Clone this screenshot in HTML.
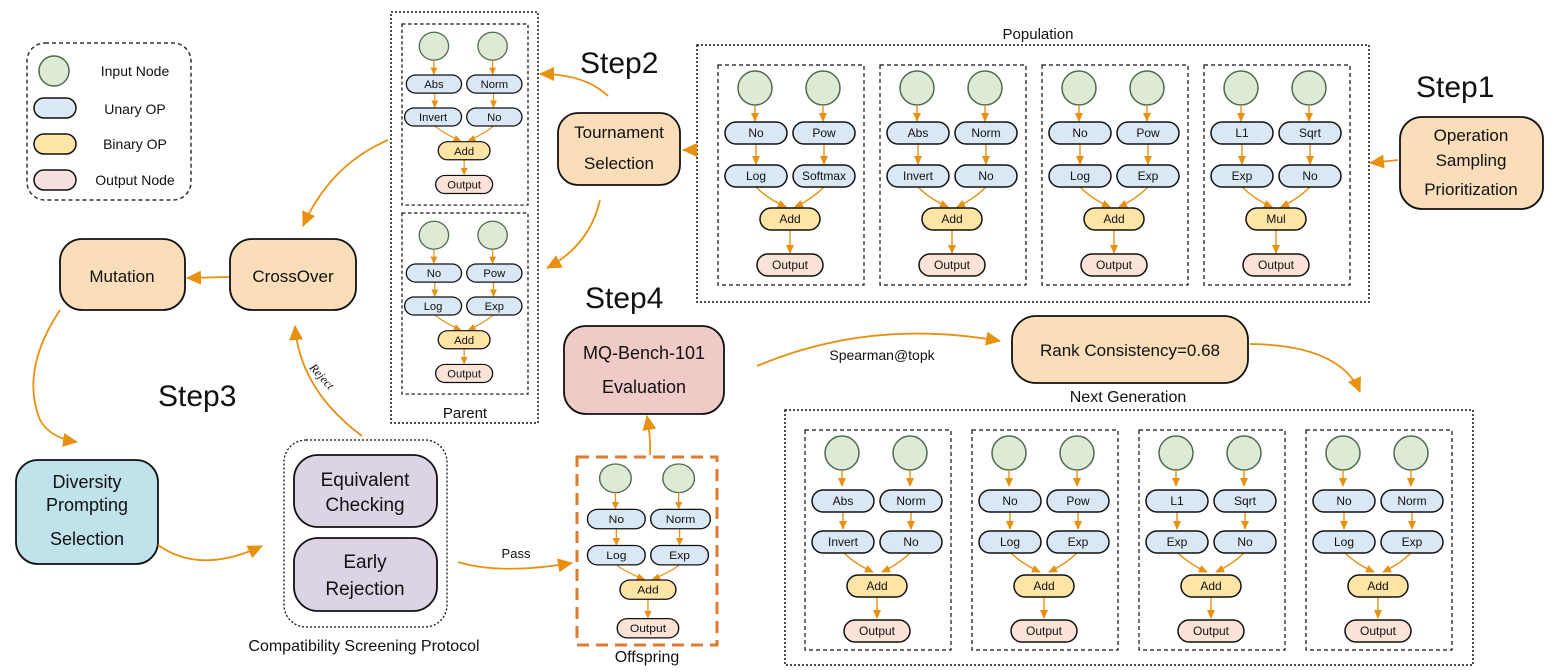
<!DOCTYPE html>
<html><head><meta charset="utf-8"><style>
html,body{margin:0;padding:0;background:#fff}
svg{display:block;font-family:"Liberation Sans",sans-serif}
.db{fill:none;stroke:#111;stroke-width:1.2;stroke-dasharray:4 3}
.dt{fill:none;stroke:#111;stroke-width:1.5;stroke-dasharray:2 2}
.in{fill:#DDEBD6;stroke:#4f6a4f;stroke-width:1.5}
.u{fill:#DAE7F4;stroke:#111;stroke-width:1.5}
.b{fill:#FFE5A5;stroke:#111;stroke-width:1.5}
.o{fill:#FBE3D7;stroke:#111;stroke-width:1.5}
.a{fill:none;stroke:#E8900F;stroke-width:1.4;marker-end:url(#ms)}
.A{fill:none;stroke:#E8900F;stroke-width:1.8;marker-end:url(#ml)}
.g text{font-size:12px;text-anchor:middle;fill:#111}
.big{fill:#FADDB9;stroke:#111;stroke-width:1.8}
.t{text-anchor:middle;fill:#111}
</style></head><body>
<svg width="1555" height="672" viewBox="0 0 1555 672" xmlns="http://www.w3.org/2000/svg">
<defs>
<marker id="ms" markerUnits="userSpaceOnUse" markerWidth="10" markerHeight="10" refX="8" refY="4" orient="auto"><path d="M0,0L9,4L0,8z" fill="#E8900F"/></marker>
<marker id="ml" markerUnits="userSpaceOnUse" markerWidth="18" markerHeight="18" refX="14" refY="7" orient="auto"><path d="M0,0L15,7L0,14z" fill="#E8900F"/></marker>
</defs>

<!-- Legend -->
<rect x="27" y="43" width="164" height="157" rx="18" fill="none" stroke="#333" stroke-width="1.5" stroke-dasharray="4 3"/>
<circle class="in" cx="54" cy="71" r="15"/>
<rect class="u" x="34" y="98" width="42" height="20" rx="10"/>
<rect class="b" x="34" y="134" width="42" height="20" rx="10"/>
<rect class="o" x="34" y="170" width="42" height="20" rx="10" style="fill:#F5E0E0"/>
<g font-size="14" fill="#111" class="t"><text x="135" y="76">Input Node</text><text x="135" y="114">Unary OP</text><text x="135" y="149">Binary OP</text><text x="135" y="185">Output Node</text></g>

<!-- Steps -->
<g font-size="30" fill="#111"><text x="580" y="73">Step2</text><text x="1416" y="97">Step1</text><text x="585" y="308">Step4</text><text x="158" y="406">Step3</text></g>

<!-- Parent -->
<rect class="dt" x="391" y="12" width="147" height="411"/>
<text class="t" x="465" y="418" font-size="15">Parent</text>

<!-- Population -->
<rect class="dt" x="697" y="45" width="672" height="257"/>
<text class="t" x="1038" y="39" font-size="15">Population</text>
<!-- Next Gen -->
<rect class="dt" x="785" y="410" width="688" height="255"/>
<text class="t" x="1128" y="402" font-size="16">Next Generation</text>

<!-- Offspring -->
<rect x="577" y="457" width="140" height="188" fill="none" stroke="#E07A2E" stroke-width="3" stroke-dasharray="12 7"/>
<text class="t" x="647" y="662" font-size="16">Offspring</text>

<!-- Graph template instances -->
<!-- POP 1 -->
<g class="g" transform="translate(718,65)"><rect class="db" width="146" height="220"/>
<circle class="in" cx="37" cy="23" r="17"/><circle class="in" cx="105" cy="23" r="17"/>
<path class="a" d="M37 40V56"/><path class="a" d="M105 40V56"/><path class="a" d="M38 79V99"/><path class="a" d="M106 79V99"/><path class="a" d="M38 122Q50 134 68 142"/><path class="a" d="M106 122Q94 134 77 142"/><path class="a" d="M72 165V188"/>
<rect class="u" x="7" y="57" width="62" height="22" rx="11"/><rect class="u" x="75" y="57" width="62" height="22" rx="11"/>
<rect class="u" x="7" y="100" width="62" height="22" rx="11"/><rect class="u" x="75" y="100" width="62" height="22" rx="11"/>
<rect class="b" x="42" y="143" width="60" height="22" rx="11"/><rect class="o" x="39" y="189" width="66" height="22" rx="11"/>
<text x="38" y="72">No</text><text x="106" y="72">Pow</text><text x="38" y="115">Log</text><text x="106" y="115">Softmax</text><text x="72" y="158">Add</text><text x="72" y="204">Output</text></g>
<!-- POP 2 -->
<g class="g" transform="translate(880,65)"><rect class="db" width="146" height="220"/>
<circle class="in" cx="37" cy="23" r="17"/><circle class="in" cx="105" cy="23" r="17"/>
<path class="a" d="M37 40V56"/><path class="a" d="M105 40V56"/><path class="a" d="M38 79V99"/><path class="a" d="M106 79V99"/><path class="a" d="M38 122Q50 134 68 142"/><path class="a" d="M106 122Q94 134 77 142"/><path class="a" d="M72 165V188"/>
<rect class="u" x="7" y="57" width="62" height="22" rx="11"/><rect class="u" x="75" y="57" width="62" height="22" rx="11"/>
<rect class="u" x="7" y="100" width="62" height="22" rx="11"/><rect class="u" x="75" y="100" width="62" height="22" rx="11"/>
<rect class="b" x="42" y="143" width="60" height="22" rx="11"/><rect class="o" x="39" y="189" width="66" height="22" rx="11"/>
<text x="38" y="72">Abs</text><text x="106" y="72">Norm</text><text x="38" y="115">Invert</text><text x="106" y="115">No</text><text x="72" y="158">Add</text><text x="72" y="204">Output</text></g>
<!-- POP 3 -->
<g class="g" transform="translate(1042,65)"><rect class="db" width="146" height="220"/>
<circle class="in" cx="37" cy="23" r="17"/><circle class="in" cx="105" cy="23" r="17"/>
<path class="a" d="M37 40V56"/><path class="a" d="M105 40V56"/><path class="a" d="M38 79V99"/><path class="a" d="M106 79V99"/><path class="a" d="M38 122Q50 134 68 142"/><path class="a" d="M106 122Q94 134 77 142"/><path class="a" d="M72 165V188"/>
<rect class="u" x="7" y="57" width="62" height="22" rx="11"/><rect class="u" x="75" y="57" width="62" height="22" rx="11"/>
<rect class="u" x="7" y="100" width="62" height="22" rx="11"/><rect class="u" x="75" y="100" width="62" height="22" rx="11"/>
<rect class="b" x="42" y="143" width="60" height="22" rx="11"/><rect class="o" x="39" y="189" width="66" height="22" rx="11"/>
<text x="38" y="72">No</text><text x="106" y="72">Pow</text><text x="38" y="115">Log</text><text x="106" y="115">Exp</text><text x="72" y="158">Add</text><text x="72" y="204">Output</text></g>
<!-- POP 4 -->
<g class="g" transform="translate(1204,65)"><rect class="db" width="146" height="220"/>
<circle class="in" cx="37" cy="23" r="17"/><circle class="in" cx="105" cy="23" r="17"/>
<path class="a" d="M37 40V56"/><path class="a" d="M105 40V56"/><path class="a" d="M38 79V99"/><path class="a" d="M106 79V99"/><path class="a" d="M38 122Q50 134 68 142"/><path class="a" d="M106 122Q94 134 77 142"/><path class="a" d="M72 165V188"/>
<rect class="u" x="7" y="57" width="62" height="22" rx="11"/><rect class="u" x="75" y="57" width="62" height="22" rx="11"/>
<rect class="u" x="7" y="100" width="62" height="22" rx="11"/><rect class="u" x="75" y="100" width="62" height="22" rx="11"/>
<rect class="b" x="42" y="143" width="60" height="22" rx="11"/><rect class="o" x="39" y="189" width="66" height="22" rx="11"/>
<text x="38" y="72">L1</text><text x="106" y="72">Sqrt</text><text x="38" y="115">Exp</text><text x="106" y="115">No</text><text x="72" y="158">Mul</text><text x="72" y="204">Output</text></g>

<!-- NEXT 1 -->
<g class="g" transform="translate(805,430)"><rect class="db" width="146" height="220"/>
<circle class="in" cx="37" cy="23" r="17"/><circle class="in" cx="105" cy="23" r="17"/>
<path class="a" d="M37 40V56"/><path class="a" d="M105 40V56"/><path class="a" d="M38 79V99"/><path class="a" d="M106 79V99"/><path class="a" d="M38 122Q50 134 68 142"/><path class="a" d="M106 122Q94 134 77 142"/><path class="a" d="M72 165V188"/>
<rect class="u" x="7" y="60" width="62" height="22" rx="11"/><rect class="u" x="75" y="60" width="62" height="22" rx="11"/>
<rect class="u" x="7" y="101" width="62" height="22" rx="11"/><rect class="u" x="75" y="101" width="62" height="22" rx="11"/>
<rect class="b" x="42" y="145" width="60" height="22" rx="11"/><rect class="o" x="39" y="190" width="66" height="22" rx="11"/>
<text x="38" y="75">Abs</text><text x="106" y="75">Norm</text><text x="38" y="116">Invert</text><text x="106" y="116">No</text><text x="72" y="160">Add</text><text x="72" y="205">Output</text></g>
<!-- NEXT 2 -->
<g class="g" transform="translate(972,430)"><rect class="db" width="146" height="220"/>
<circle class="in" cx="37" cy="23" r="17"/><circle class="in" cx="105" cy="23" r="17"/>
<path class="a" d="M37 40V56"/><path class="a" d="M105 40V56"/><path class="a" d="M38 79V99"/><path class="a" d="M106 79V99"/><path class="a" d="M38 122Q50 134 68 142"/><path class="a" d="M106 122Q94 134 77 142"/><path class="a" d="M72 165V188"/>
<rect class="u" x="7" y="60" width="62" height="22" rx="11"/><rect class="u" x="75" y="60" width="62" height="22" rx="11"/>
<rect class="u" x="7" y="101" width="62" height="22" rx="11"/><rect class="u" x="75" y="101" width="62" height="22" rx="11"/>
<rect class="b" x="42" y="145" width="60" height="22" rx="11"/><rect class="o" x="39" y="190" width="66" height="22" rx="11"/>
<text x="38" y="75">No</text><text x="106" y="75">Pow</text><text x="38" y="116">Log</text><text x="106" y="116">Exp</text><text x="72" y="160">Add</text><text x="72" y="205">Output</text></g>
<!-- NEXT 3 -->
<g class="g" transform="translate(1139,430)"><rect class="db" width="146" height="220"/>
<circle class="in" cx="37" cy="23" r="17"/><circle class="in" cx="105" cy="23" r="17"/>
<path class="a" d="M37 40V56"/><path class="a" d="M105 40V56"/><path class="a" d="M38 79V99"/><path class="a" d="M106 79V99"/><path class="a" d="M38 122Q50 134 68 142"/><path class="a" d="M106 122Q94 134 77 142"/><path class="a" d="M72 165V188"/>
<rect class="u" x="7" y="60" width="62" height="22" rx="11"/><rect class="u" x="75" y="60" width="62" height="22" rx="11"/>
<rect class="u" x="7" y="101" width="62" height="22" rx="11"/><rect class="u" x="75" y="101" width="62" height="22" rx="11"/>
<rect class="b" x="42" y="145" width="60" height="22" rx="11"/><rect class="o" x="39" y="190" width="66" height="22" rx="11"/>
<text x="38" y="75">L1</text><text x="106" y="75">Sqrt</text><text x="38" y="116">Exp</text><text x="106" y="116">No</text><text x="72" y="160">Add</text><text x="72" y="205">Output</text></g>
<!-- NEXT 4 -->
<g class="g" transform="translate(1306,430)"><rect class="db" width="146" height="220"/>
<circle class="in" cx="37" cy="23" r="17"/><circle class="in" cx="105" cy="23" r="17"/>
<path class="a" d="M37 40V56"/><path class="a" d="M105 40V56"/><path class="a" d="M38 79V99"/><path class="a" d="M106 79V99"/><path class="a" d="M38 122Q50 134 68 142"/><path class="a" d="M106 122Q94 134 77 142"/><path class="a" d="M72 165V188"/>
<rect class="u" x="7" y="60" width="62" height="22" rx="11"/><rect class="u" x="75" y="60" width="62" height="22" rx="11"/>
<rect class="u" x="7" y="101" width="62" height="22" rx="11"/><rect class="u" x="75" y="101" width="62" height="22" rx="11"/>
<rect class="b" x="42" y="145" width="60" height="22" rx="11"/><rect class="o" x="39" y="190" width="66" height="22" rx="11"/>
<text x="38" y="75">No</text><text x="106" y="75">Norm</text><text x="38" y="116">Log</text><text x="106" y="116">Exp</text><text x="72" y="160">Add</text><text x="72" y="205">Output</text></g>

<!-- PARENT top -->
<g class="g" transform="translate(402,24) scale(0.863,0.823)"><rect class="db" width="146" height="220" style="stroke-width:1.4"/>
<circle class="in" cx="37" cy="27" r="17"/><circle class="in" cx="105" cy="27" r="17"/>
<path class="a" d="M37 44V61"/><path class="a" d="M105 44V61"/><path class="a" d="M38 84V101"/><path class="a" d="M106 84V101"/><path class="a" d="M38 124Q50 134 68 142"/><path class="a" d="M106 124Q94 134 77 142"/><path class="a" d="M72 165V183"/>
<rect class="u" x="5" y="62" width="64" height="22" rx="11"/><rect class="u" x="75" y="62" width="64" height="22" rx="11"/>
<rect class="u" x="3" y="102" width="66" height="22" rx="11"/><rect class="u" x="75" y="102" width="64" height="22" rx="11"/>
<rect class="b" x="42" y="143" width="60" height="22" rx="11"/><rect class="o" x="39" y="184" width="66" height="22" rx="11"/>
<text x="37" y="78" style="font-size:13px">Abs</text><text x="107" y="78" style="font-size:13px">Norm</text><text x="36" y="118" style="font-size:13px">Invert</text><text x="107" y="118" style="font-size:13px">No</text><text x="72" y="159" style="font-size:13px">Add</text><text x="72" y="200" style="font-size:13px">Output</text></g>
<!-- PARENT bottom -->
<g class="g" transform="translate(402,213) scale(0.863,0.823)"><rect class="db" width="146" height="220" style="stroke-width:1.4"/>
<circle class="in" cx="37" cy="27" r="17"/><circle class="in" cx="105" cy="27" r="17"/>
<path class="a" d="M37 44V61"/><path class="a" d="M105 44V61"/><path class="a" d="M38 84V101"/><path class="a" d="M106 84V101"/><path class="a" d="M38 124Q50 134 68 142"/><path class="a" d="M106 124Q94 134 77 142"/><path class="a" d="M72 165V183"/>
<rect class="u" x="5" y="62" width="64" height="22" rx="11"/><rect class="u" x="75" y="62" width="64" height="22" rx="11"/>
<rect class="u" x="3" y="102" width="66" height="22" rx="11"/><rect class="u" x="75" y="102" width="64" height="22" rx="11"/>
<rect class="b" x="42" y="143" width="60" height="22" rx="11"/><rect class="o" x="39" y="184" width="66" height="22" rx="11"/>
<text x="37" y="78" style="font-size:13px">No</text><text x="107" y="78" style="font-size:13px">Pow</text><text x="36" y="118" style="font-size:13px">Log</text><text x="107" y="118" style="font-size:13px">Exp</text><text x="72" y="159" style="font-size:13px">Add</text><text x="72" y="200" style="font-size:13px">Output</text></g>

<!-- OFFSPRING graph -->
<g class="g" transform="translate(581,459) scale(0.93,0.84)">
<circle class="in" cx="37" cy="23" r="17"/><circle class="in" cx="105" cy="23" r="17"/>
<path class="a" d="M37 40V59"/><path class="a" d="M105 40V59"/><path class="a" d="M38 83V102"/><path class="a" d="M106 83V102"/><path class="a" d="M38 126Q50 136 68 143"/><path class="a" d="M106 126Q94 136 77 143"/><path class="a" d="M72 167V189"/>
<rect class="u" x="7" y="60" width="62" height="23" rx="11"/><rect class="u" x="75" y="60" width="64" height="23" rx="11"/>
<rect class="u" x="7" y="103" width="62" height="23" rx="11"/><rect class="u" x="75" y="103" width="62" height="23" rx="11"/>
<rect class="b" x="42" y="144" width="60" height="23" rx="11"/><rect class="o" x="39" y="190" width="66" height="23" rx="11"/>
<text x="38" y="76" style="font-size:13px">No</text><text x="107" y="76" style="font-size:13px">Norm</text><text x="38" y="119" style="font-size:13px">Log</text><text x="106" y="119" style="font-size:13px">Exp</text><text x="72" y="160" style="font-size:13px">Add</text><text x="72" y="206" style="font-size:13px">Output</text></g>

<!-- Big boxes -->
<rect class="big" x="558" y="113" width="122" height="72" rx="20"/>
<text class="t" font-size="17" x="619" y="138">Tournament</text><text class="t" font-size="17" x="619" y="169">Selection</text>
<rect class="big" x="1400" y="117" width="143" height="92" rx="22"/>
<text class="t" font-size="17" x="1471" y="141">Operation</text><text class="t" font-size="17" x="1471" y="166">Sampling</text><text class="t" font-size="17" x="1471" y="195">Prioritization</text>
<rect class="big" x="60" y="239" width="125" height="71" rx="22"/>
<text class="t" font-size="17" x="122" y="282">Mutation</text>
<rect class="big" x="230" y="239" width="126" height="71" rx="22"/>
<text class="t" font-size="17" x="293" y="282">CrossOver</text>
<rect x="16" y="460" width="142" height="104" rx="22" fill="#BFE2EB" stroke="#111" stroke-width="1.8"/>
<text class="t" font-size="18" x="87" y="488">Diversity</text><text class="t" font-size="18" x="87" y="511">Prompting</text><text class="t" font-size="18" x="87" y="545">Selection</text>
<rect x="284" y="440" width="163" height="187" rx="22" fill="none" stroke="#111" stroke-width="1.3" stroke-dasharray="2 2"/>
<rect x="294" y="455" width="143" height="72" rx="24" fill="#DCD4E4" stroke="#111" stroke-width="1.8"/>
<text class="t" font-size="19" x="365" y="486">Equivalent</text><text class="t" font-size="19" x="365" y="511">Checking</text>
<rect x="294" y="538" width="143" height="73" rx="24" fill="#DCD4E4" stroke="#111" stroke-width="1.8"/>
<text class="t" font-size="19" x="365" y="568">Early</text><text class="t" font-size="19" x="365" y="595">Rejection</text>
<text class="t" font-size="16" x="364" y="651">Compatibility Screening Protocol</text>
<rect x="564" y="326" width="160" height="88" rx="22" fill="#EFCAC6" stroke="#111" stroke-width="1.8"/>
<text class="t" font-size="18" x="644" y="359">MQ-Bench-101</text><text class="t" font-size="18" x="644" y="393">Evaluation</text>
<rect class="big" x="1012" y="316" width="236" height="67" rx="24"/>
<text class="t" font-size="17" x="1130" y="356">Rank Consistency=0.68</text>

<!-- Connectors -->
<path class="A" d="M608 96Q585 74 540 74"/>
<path class="A" d="M600 200Q590 245 547 268"/>
<path class="A" d="M697 150L683 150"/>
<path class="A" d="M1398 160L1370 163"/>
<path class="A" d="M388 140Q330 165 303 226"/>
<path class="A" d="M229 277L187 278"/>
<path class="A" d="M60 310Q20 370 40 420Q50 438 77 442"/>
<path class="A" d="M158 545Q200 575 262 546"/>
<path class="A" d="M362 436Q300 390 295 326"/>
<text font-size="12" font-family="Liberation Serif,serif" font-style="italic" fill="#111" transform="translate(309,368) rotate(48)">Reject</text>
<path class="A" d="M458 562Q500 575 572 563"/>
<text font-size="13" x="516" y="558" class="t">Pass</text>
<path class="A" d="M650 455Q651 440 647 416"/>
<path class="A" d="M757 366Q870 318 1000 341"/>
<text font-size="14" x="882" y="360" class="t">Spearman@topk</text>
<path class="A" d="M1250 344Q1340 345 1360 392"/>
</svg>
</body></html>
